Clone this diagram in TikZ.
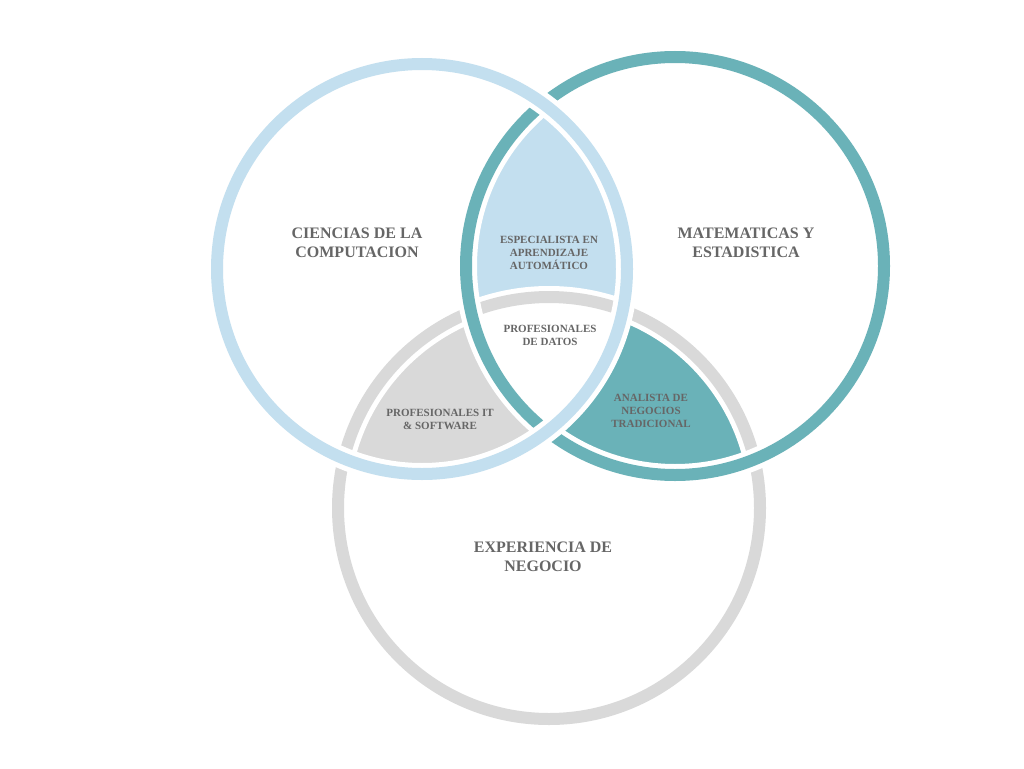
\documentclass[tikz,border=0pt]{standalone}
\usepackage{fontspec}
\setmainfont{Liberation Serif}
\definecolor{cblue}{HTML}{C3DFEF}
\definecolor{cteal}{HTML}{6AB2B8}
\definecolor{cgray}{HTML}{D9D9D9}
\definecolor{ctext}{HTML}{666666}
\begin{document}
\begin{tikzpicture}[x=1pt,y=-1pt,
  big/.style={font=\bfseries\fontsize{16}{19}\selectfont,text=ctext,align=center},
  small/.style={font=\bfseries\fontsize{11}{13}\selectfont,text=ctext,align=center},
  halo/.style={draw=white,line width=22pt},
  ring/.style={line width=12pt}]
\useasboundingbox (0,0) rectangle (1024,768);
\def\B{(422,269) circle (205)}
\def\T{(675,266) circle (209)}
\def\G{(549,508) circle (211)}
% lens fills
\begin{scope}\clip \B; \clip \T; \fill[cblue] (0,0) rectangle (1024,768); \end{scope}
\begin{scope}\clip \B; \clip \G; \fill[cgray] (0,0) rectangle (1024,768); \end{scope}
\begin{scope}\clip \T; \clip \G; \fill[cteal] (0,0) rectangle (1024,768); \end{scope}
\begin{scope}\clip \B; \clip \T; \fill[white] \G; \end{scope}
% rings
\draw[halo] \G; \draw[ring,cgray] \G;
\draw[halo] \T; \draw[ring,cteal] \T;
\draw[halo] \B; \draw[ring,cblue] \B;
\node[big] (cc) at (357,243) {CIENCIAS DE LA\\COMPUTACION};
\node[big] (me) at (746,243) {MATEMATICAS Y\\ESTADISTICA};
\node[big] (en) at (543,557) {EXPERIENCIA DE\\NEGOCIO};
\node[small] (ea) at (549,253) {ESPECIALISTA EN\\APRENDIZAJE\\AUTOMÁTICO};
\node[small] (pd) at (550,335) {PROFESIONALES\\DE DATOS};
\node[small] (pi) at (440,419) {PROFESIONALES IT\\\& SOFTWARE};
\node[small] (an) at (651,411) {ANALISTA DE\\NEGOCIOS\\TRADICIONAL};
\end{tikzpicture}
\end{document}
